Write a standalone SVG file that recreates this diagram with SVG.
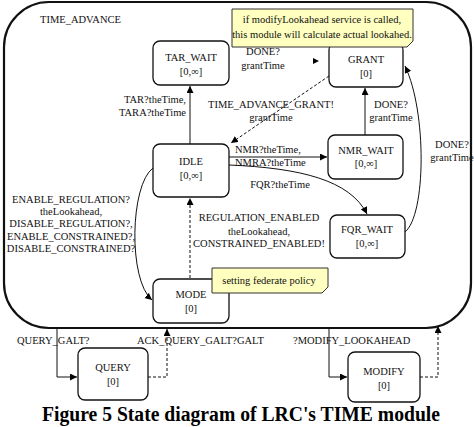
<svg xmlns="http://www.w3.org/2000/svg" width="474" height="427" viewBox="0 0 474 427">
<defs>
<marker id="arr" viewBox="0 0 10 10" refX="10" refY="5" markerWidth="7" markerHeight="7" orient="auto" markerUnits="userSpaceOnUse">
<path d="M0,0 L10,5 L0,10 z" fill="#000"/>
</marker>
</defs>
<style>
text{font-family:"Liberation Serif","Times New Roman",serif;font-size:10.5px;fill:#111}
.c{text-anchor:middle}
.r{text-anchor:end}
.st{fill:#fff;stroke:#111;stroke-width:1.3}
.note{fill:#ffffc0;stroke:#333;stroke-width:1}
.ln{fill:none;stroke:#111;stroke-width:1}
.ds{fill:none;stroke:#111;stroke-width:1;stroke-dasharray:3,2}
.cap{font-size:20px;font-weight:bold;fill:#000}
</style>
<rect width="474" height="427" fill="#fff"/>
<g id="time_advance">
<rect x="4" y="2" width="467" height="326" rx="45" ry="45" fill="#fff" stroke="#111" stroke-width="2.2"/>
<text x="40" y="23">TIME_ADVANCE</text>
</g>
<g id="connectors">
<path class="ln" d="M190,144 L190,86" marker-end="url(#arr)"/>
<path d="M313,58 L319,61 L313,64 z" fill="#000"/>
<path class="ds" d="M329,76 L231,143" marker-end="url(#arr)"/>
<path class="ln" d="M229,157 L327,157" marker-end="url(#arr)"/>
<path class="ln" d="M229,165 C300,168 350,180 367,214" marker-end="url(#arr)"/>
<path class="ln" d="M365,135 L365,88" marker-end="url(#arr)"/>
<path class="ln" d="M405,232 C426,215 427,112 405,66" marker-end="url(#arr)"/>
<path class="ln" d="M153,168 C130,185 128,280 152,300" marker-end="url(#arr)"/>
<path class="ds" d="M190,278 L190,198" marker-end="url(#arr)"/>
<path class="ln" d="M57,328 L57,377 L77,377" marker-end="url(#arr)"/>
<path class="ds" d="M148,377 L167,377 L167,329" marker-end="url(#arr)"/>
<path class="ln" d="M329,328 L329,377 L347,377" marker-end="url(#arr)"/>
<path class="ds" d="M420,377 L438,377 L438,326" marker-end="url(#arr)"/>
<text class="r" x="186" y="103">TAR?theTime,</text>
<text class="r" x="186" y="116">TARA?theTime</text>
<text class="c" x="263" y="55">DONE?</text>
<text class="c" x="263" y="69">grantTime</text>
<text class="c" x="271" y="108">TIME_ADVANCE_GRANT!</text>
<text class="c" x="271" y="121">grantTime</text>
<text class="c" x="391" y="108">DONE?</text>
<text class="c" x="391" y="121">grantTime</text>
<text x="235" y="153">NMR?theTime,</text>
<text x="235" y="166">NMRA?theTime</text>
<text class="c" x="280" y="188">FQR?theTime</text>
<text class="c" x="452" y="148">DONE?</text>
<text class="c" x="452" y="161">grantTime</text>
<text class="c" x="71" y="203">ENABLE_REGULATION?</text>
<text class="c" x="71" y="215">theLookahead,</text>
<text class="c" x="71" y="227">DISABLE_REGULATION?,</text>
<text class="c" x="71" y="240">ENABLE_CONSTRAINED?,</text>
<text class="c" x="71" y="252">DISABLE_CONSTRAINED?</text>
<text class="c" x="259" y="221">REGULATION_ENABLED</text>
<text class="c" x="259" y="235">theLookahead,</text>
<text class="c" x="259" y="247">CONSTRAINED_ENABLED!</text>
<text x="17" y="344">QUERY_GALT?</text>
<text x="137" y="344">ACK_QUERY_GALT?GALT</text>
<text x="293" y="344">?MODIFY_LOOKAHEAD</text>
</g>
<g id="tar_wait">
<rect class="st" x="153" y="41" width="76" height="44" rx="7"/>
<text class="c" x="191" y="61">TAR_WAIT</text>
<text class="c" x="191" y="75">[0,∞]</text>
</g>
<g id="grant">
<rect class="st" x="329" y="43" width="74" height="44" rx="7"/>
<text class="c" x="366" y="63">GRANT</text>
<text class="c" x="366" y="77">[0]</text>
</g>
<g id="note_lookahead">
<path class="note" d="M232,9 L413,9 L413,41 L407,47 L232,47 z"/>
<text class="c" x="322" y="23">if modifyLookahead service is called,</text>
<text class="c" x="322" y="38">this module will calculate actual lookahed.</text>
</g>
<g id="idle">
<rect class="st" x="153" y="144" width="76" height="53" rx="7" stroke-width="2.5"/>
<text class="c" x="191" y="165">IDLE</text>
<text class="c" x="191" y="179">[0,∞]</text>
</g>
<g id="nmr_wait">
<rect class="st" x="328" y="135" width="75" height="44" rx="7"/>
<text class="c" x="366" y="154">NMR_WAIT</text>
<text class="c" x="366" y="167">[0,∞]</text>
</g>
<g id="fqr_wait">
<rect class="st" x="330" y="215" width="75" height="43" rx="7"/>
<text class="c" x="367" y="233">FQR_WAIT</text>
<text class="c" x="367" y="247">[0,∞]</text>
</g>
<g id="mode">
<rect class="st" x="153" y="279" width="76" height="44" rx="7"/>
<text class="c" x="191" y="298">MODE</text>
<text class="c" x="191" y="312">[0]</text>
</g>
<g id="note_policy">
<path class="note" d="M212,268 L328,268 L328,287 L322,293 L212,293 z"/>
<text class="c" x="269" y="284">setting federate policy</text>
</g>
<g id="query">
<rect class="st" x="78" y="348" width="70" height="52" rx="7"/>
<text class="c" x="113" y="371">QUERY</text>
<text class="c" x="113" y="385">[0]</text>
</g>
<g id="modify">
<rect class="st" x="348" y="352" width="72" height="50" rx="7"/>
<text class="c" x="384" y="375">MODIFY</text>
<text class="c" x="384" y="389">[0]</text>
</g>
<text class="c cap" x="241" y="421" textLength="398" lengthAdjust="spacingAndGlyphs">Figure 5 State diagram of LRC's TIME module</text>
</svg>
